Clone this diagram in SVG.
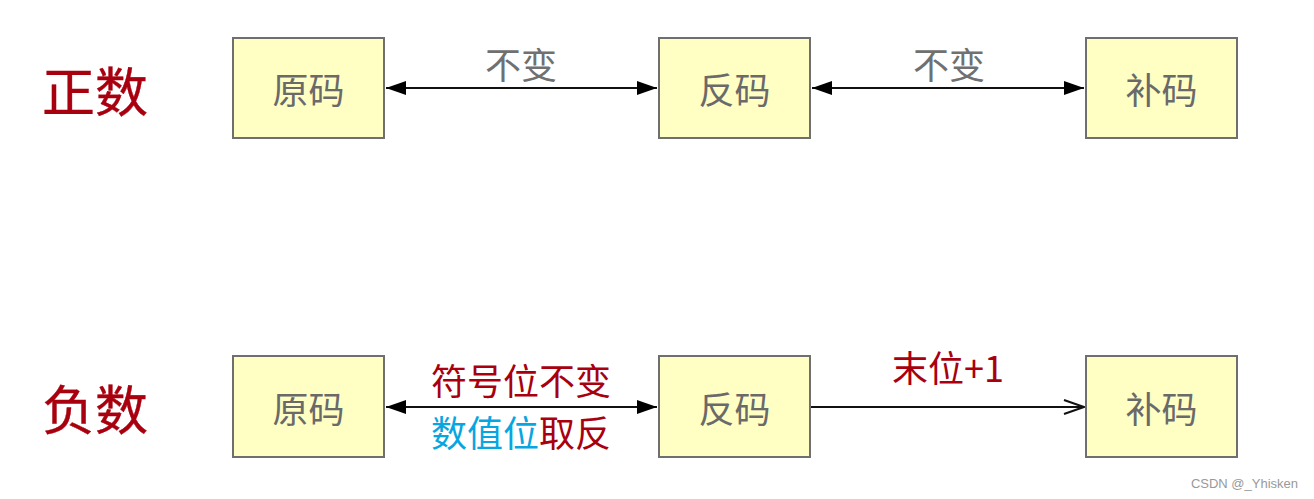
<svg xmlns="http://www.w3.org/2000/svg" width="1314" height="499" viewBox="0 0 1314 499">
<style>
.box{fill:#ffffc4;stroke:#6f6f6f;stroke-width:2}
.bt{font-family:"Noto Sans CJK SC","Noto Sans",sans-serif;font-size:36px;fill:#6a6a6a;text-anchor:middle;dominant-baseline:central}
.lbl{font-family:"Noto Sans CJK SC","Noto Sans",sans-serif;font-size:36px;text-anchor:middle;dominant-baseline:central}
.big{font-family:"Noto Sans CJK SC","Noto Sans",sans-serif;font-size:53px;fill:#a8000e;stroke:#a8000e;stroke-width:0.4}
.line{stroke:#111;stroke-width:2;fill:none}
</style>
<defs>
<marker id="ah" viewBox="0 0 20 14" refX="20" refY="7" markerWidth="20" markerHeight="14" markerUnits="userSpaceOnUse" orient="auto-start-reverse">
<path d="M0,0 L20,7 L0,14 Z" fill="#000"/>
</marker>
<marker id="open" viewBox="0 0 22 16" refX="21" refY="8" markerWidth="22" markerHeight="16" markerUnits="userSpaceOnUse" orient="auto">
<path d="M1,1 L21,8 L1,15" fill="none" stroke="#111" stroke-width="2"/>
</marker>
</defs>
<rect width="1314" height="499" fill="#fff"/>
<text class="big" x="42" y="112">正数</text>
<text class="big" x="42" y="430">负数</text>
<g id="pos-yuan"><rect class="box" x="233" y="38" width="151" height="100"/><text class="bt" x="308.5" y="88">原码</text></g>
<g id="pos-fan"><rect class="box" x="659" y="38" width="151" height="100"/><text class="bt" x="734.5" y="88">反码</text></g>
<g id="pos-bu"><rect class="box" x="1086" y="38" width="151" height="100"/><text class="bt" x="1161.5" y="88">补码</text></g>
<g id="neg-yuan"><rect class="box" x="233" y="356" width="151" height="101"/><text class="bt" x="308.5" y="407">原码</text></g>
<g id="neg-fan"><rect class="box" x="659" y="356" width="151" height="101"/><text class="bt" x="734.5" y="407">反码</text></g>
<g id="neg-bu"><rect class="box" x="1086" y="356" width="151" height="101"/><text class="bt" x="1161.5" y="407">补码</text></g>
<g id="connectors">
<line class="line" x1="386" y1="88" x2="657" y2="88" marker-start="url(#ah)" marker-end="url(#ah)"/>
<line class="line" x1="812" y1="88" x2="1084" y2="88" marker-start="url(#ah)" marker-end="url(#ah)"/>
<line class="line" x1="386" y1="407" x2="657" y2="407" marker-start="url(#ah)" marker-end="url(#ah)"/>
<line class="line" x1="811" y1="407" x2="1084" y2="407" marker-end="url(#open)"/>
</g>
<text class="lbl" x="521" y="63" fill="#707070">不变</text>
<text class="lbl" x="949" y="63" fill="#707070">不变</text>
<text class="lbl" x="521" y="379" fill="#a8000e">符号位不变</text>
<text class="lbl" x="521" y="431"><tspan fill="#08a6e0">数值位</tspan><tspan fill="#a8000e">取反</tspan></text>
<text class="lbl" x="948" y="366" fill="#a8000e">末位+1</text>
<text x="1298" y="488" font-family="Liberation Sans,sans-serif" font-size="13" fill="#999" text-anchor="end">CSDN @_Yhisken</text>
</svg>
